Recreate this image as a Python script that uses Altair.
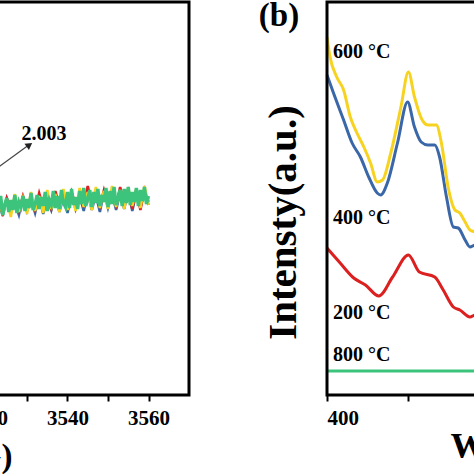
import altair as alt
import pandas as pd

FONT = "Liberation Serif"

# ---------------- Panel (a): EPR, visible part ----------------
a_domain = [3470, 3570]
a_ticks = [3480, 3490, 3500, 3510, 3520, 3530, 3540, 3550, 3560]
green_start, green_step = 3522.0, 0.5
green_vals = [1.81, 1.96, 1.86, 1.99, 1.80, 1.90, 1.97, 1.83, 1.95, 1.85, 2.00, 1.82,
              1.93, 1.88, 1.99, 1.84, 1.96, 1.87, 2.02, 1.85, 1.91, 2.00, 1.86, 1.98,
              1.89, 2.03, 1.84, 1.95, 1.90, 2.04, 1.87, 1.99, 1.86, 2.05, 1.92, 1.88,
              2.03, 1.87, 2.06, 1.90, 1.98, 1.86, 2.04, 1.91, 2.07, 1.89, 1.96, 2.05,
              1.88, 2.03, 1.92, 2.06, 1.89, 2.00, 1.93, 2.07, 1.88, 2.04, 1.91, 2.08,
              1.90, 1.97, 2.05, 1.89, 2.06, 1.92, 2.08, 1.90, 2.03, 1.93, 2.07, 1.89,
              2.05, 1.94, 2.08, 1.91, 1.99]
other_start, other_step = 3522.0, 1.0
yellow_vals = [1.76, 1.99, 1.80, 1.96, 1.78, 2.01, 1.83, 1.97, 1.81, 2.03, 1.84, 1.99,
               1.82, 2.05, 1.86, 2.01, 1.83, 2.06, 1.85, 2.02, 1.84, 2.07, 1.88, 2.03,
               1.85, 2.08, 1.87, 2.04, 1.86, 2.09, 1.88, 2.05, 1.86, 2.07, 1.89, 2.06,
               1.87, 2.09, 1.90]
red_vals = [1.84, 1.93, 1.82, 1.97, 1.86, 1.95, 1.84, 1.99, 1.87, 1.96, 1.85, 2.02,
            1.88, 1.98, 1.86, 2.04, 1.89, 2.00, 1.87, 2.03, 1.90, 2.01, 1.88, 2.09,
            1.91, 2.03, 1.89, 2.05, 1.92, 2.02, 1.90, 2.08, 1.92, 2.04, 1.86, 2.06,
            1.85, 2.05, 1.93]
blue_vals = [1.81, 1.94, 1.79, 1.96, 1.83, 1.92, 1.80, 1.98, 1.84, 1.95, 1.82, 1.99,
             1.81, 1.97, 1.85, 2.00, 1.83, 1.98, 1.82, 2.01, 1.86, 1.99, 1.84, 2.02,
             1.85, 2.00, 1.83, 2.03, 1.87, 2.01, 1.85, 2.02, 1.86, 2.04, 1.84, 2.03,
             1.87, 2.05, 1.90]

arrow_x = [3521.0, 3530.1]
arrow_y = [2.22, 2.49]
arrow_head = (3530.6, 2.50)
g_label = ("2.003", 3534.2, 2.61)

# ---------------- Panel (b): spectra ----------------
b_domain = [400, 1000]
b_ticks = [400, 600, 800, 1000]
wn_600 = [400, 407.5, 424, 441, 457.5, 474, 491, 507.5, 524, 537, 557.5, 582.5, 601,
          616, 632.5, 649, 670, 682.5, 699, 716, 728, 741, 753, 766, 790]
int_600 = [3.58, 3.38, 3.18, 3.05, 2.78, 2.62, 2.48, 2.32, 2.13, 2.15, 2.42, 2.88, 3.23,
           2.98, 2.77, 2.70, 2.70, 2.52, 2.08, 1.85, 1.82, 1.73, 1.65, 1.63, 1.60]
wn_400 = [400, 416, 441, 462, 482.5, 503, 524, 532.5, 549, 574, 599, 616, 632.5, 649,
          666, 678, 695, 712, 724, 741, 753, 766, 790]
int_400 = [3.20, 3.02, 2.75, 2.52, 2.38, 2.18, 2.02, 2.00, 2.12, 2.52, 2.93, 2.68, 2.53,
           2.50, 2.50, 2.38, 1.98, 1.68, 1.67, 1.55, 1.48, 1.50, 1.50]
wn_200 = [400, 432.5, 466, 495, 528, 562, 601, 628, 666, 687, 712, 728, 753, 766, 790]
int_200 = [1.47, 1.32, 1.17, 1.10, 0.99, 1.18, 1.40, 1.23, 1.18, 1.05, 0.88, 0.85, 0.78,
           0.80, 0.80]
wn_800 = [400, 1000]
int_800 = [0.24, 0.24]

temp_labels = ["600 °C", "400 °C", "200 °C", "800 °C"]
temp_label_x = [415, 415, 415, 415]
temp_label_y = [3.43, 1.77, 0.82, 0.40]

int_domain = [0, 3.93]

RED, BLUE, YELLOW, GREEN = "#dc1f1f", "#3a67a8", "#f7d320", "#3cc47c"

# pixel layout of the two panels inside the 474-wide canvas
A_RANGE = [-216, 189]
B_RANGE = [327, 570]
Y_RANGE = [395, 2]
H = 395

xa_scale = alt.Scale(domain=a_domain, range=A_RANGE, nice=False, zero=False)
xb_scale = alt.Scale(domain=b_domain, range=B_RANGE, nice=False, zero=False)
y_scale = alt.Scale(domain=int_domain, range=Y_RANGE, nice=False, zero=False)

xa_axis = alt.Axis(values=a_ticks, format="d", orient="bottom",
                   labelExpr="datum.value % 20 == 0 ? datum.label : ''",
                   title="Magnetic Field (G)", titleAlign="right",
                   titleX=12, titleY=71, titleBaseline="alphabetic", titleFontSize=33)
xb_axis = alt.Axis(values=b_ticks, format="d", orient="bottom",
                   labelExpr="datum.value % 400 == 0 ? datum.label : ''",
                   title="Wavenumber (cm⁻¹)", titleAlign="left",
                   titleX=450, titleY=62, titleBaseline="alphabetic", titleFontSize=36)
yb_axis = alt.Axis(title="Intensty(a.u.)", labels=False, ticks=False, domain=False,
                   grid=False, orient="left", titleAngle=270, titleX=283, titleY=222,
                   titleAlign="center", titleBaseline="middle", titleFontSize=41)


def X(field, scale, axis=None):
    return alt.X(field, scale=scale, axis=axis)


def Y(field, axis=None):
    return alt.Y(field, scale=y_scale, axis=axis)


def line_df(start, step, vals):
    return pd.DataFrame({"field": [start + step * i for i in range(len(vals))], "val": vals})


layers = []

# ----- panel (a) marks -----
for vals, col, start, step, sw in [(blue_vals, BLUE, other_start, other_step, 2.6),
                                   (red_vals, RED, other_start, other_step, 2.6),
                                   (yellow_vals, YELLOW, other_start, other_step, 2.6),
                                   (green_vals, GREEN, green_start, green_step, 3.4)]:
    layers.append(alt.Chart(line_df(start, step, vals)).mark_line(
        color=col, strokeWidth=sw).encode(x=X("field:Q", xa_scale), y=Y("val:Q")))

layers.append(alt.Chart(pd.DataFrame({"field": arrow_x, "val": arrow_y}))
              .mark_line(color="#444444", strokeWidth=1.2)
              .encode(x=X("field:Q", xa_scale), y=Y("val:Q")))
layers.append(alt.Chart(pd.DataFrame({"field": [arrow_head[0]], "val": [arrow_head[1]]}))
              .mark_point(shape="triangle-right", filled=True, color="#222222",
                          size=60, angle=325, opacity=1)
              .encode(x=X("field:Q", xa_scale), y=Y("val:Q")))
layers.append(alt.Chart(pd.DataFrame({"field": [g_label[1]], "val": [g_label[2]],
                                      "t": [g_label[0]]}))
              .mark_text(font=FONT, fontWeight="bold", fontSize=20, align="center",
                         baseline="middle", color="black")
              .encode(x=X("field:Q", xa_scale), y=Y("val:Q"), text="t:N"))
layers.append(alt.Chart(pd.DataFrame({"x0": [a_domain[0]], "x1": [a_domain[1]],
                                      "y0": [int_domain[0]], "y1": [int_domain[1]]}))
              .mark_rect(fillOpacity=0, stroke="black", strokeWidth=3)
              .encode(x=X("x0:Q", xa_scale, xa_axis), x2="x1:Q", y=Y("y0:Q"), y2="y1:Q"))

# ----- panel (b) marks -----
for wn, iv, col in [(wn_800, int_800, GREEN), (wn_200, int_200, RED),
                    (wn_400, int_400, BLUE), (wn_600, int_600, YELLOW)]:
    layers.append(alt.Chart(pd.DataFrame({"wn": wn, "val": iv})).mark_line(
        color=col, strokeWidth=3, interpolate="monotone")
        .encode(x=X("wn:Q", xb_scale), y=Y("val:Q")))

layers.append(alt.Chart(pd.DataFrame({"wn": temp_label_x, "val": temp_label_y,
                                      "t": temp_labels}))
              .mark_text(font=FONT, fontWeight="bold", fontSize=20, align="left",
                         baseline="middle", color="black")
              .encode(x=X("wn:Q", xb_scale), y=Y("val:Q"), text="t:N"))
layers.append(alt.Chart(pd.DataFrame({"x0": [b_domain[0]], "x1": [b_domain[1]],
                                      "y0": [int_domain[0]], "y1": [int_domain[1]]}))
              .mark_rect(fillOpacity=0, stroke="black", strokeWidth=3)
              .encode(x=X("x0:Q", xb_scale, xb_axis), x2="x1:Q",
                      y=Y("y0:Q", yb_axis), y2="y1:Q"))
layers.append(alt.Chart(pd.DataFrame({"t": ["(b)"]})).mark_text(
    font=FONT, fontWeight="bold", fontSize=33, align="center", baseline="middle",
    color="black").encode(x=alt.value(279), y=alt.value(16), text="t:N"))

chart = alt.layer(*layers).resolve_scale(
    x="independent", y="independent"
).resolve_axis(
    x="independent", y="independent"
).properties(
    width=474, height=H,
    padding={"left": 0, "top": 0, "right": 0, "bottom": 474 - H},
    autosize=alt.AutoSizeParams(type="none"),
    background="white",
).configure_view(stroke="transparent").configure_axis(
    labelFont=FONT, labelFontWeight="bold", labelFontSize=21, labelColor="black",
    titleFont=FONT, titleFontWeight="bold", titleColor="black",
    tickColor="black", tickWidth=2, tickSize=6, domain=False, grid=False, labelPadding=6,
)

chart.save("out.html", embed_options={"renderer": "svg", "actions": False})
